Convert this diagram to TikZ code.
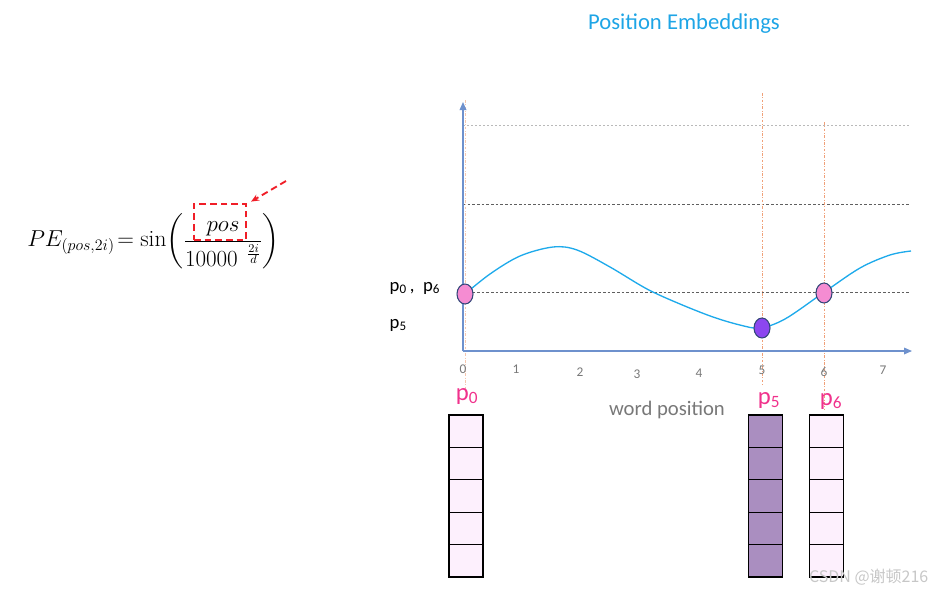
\documentclass[tikz,border=0pt]{standalone}
\usepackage{fontspec}
\usepackage{amsmath}
\usetikzlibrary{arrows.meta,shapes.geometric}
\newfontfamily\carl{Carlito}
\newfontfamily\cjk{Noto Sans CJK SC}
\definecolor{axisblue}{RGB}{110,145,205}
\definecolor{titleblue}{RGB}{30,165,230}
\definecolor{curveblue}{RGB}{30,170,235}
\definecolor{gridlight}{RGB}{185,185,185}
\definecolor{griddark}{RGB}{95,95,95}
\definecolor{orangeline}{RGB}{240,160,120}
\definecolor{pinkfill}{RGB}{245,140,210}
\definecolor{purplefill}{RGB}{140,70,240}
\definecolor{dotborder}{RGB}{50,70,120}
\definecolor{pinklabel}{RGB}{240,50,140}
\definecolor{celllight}{RGB}{253,240,253}
\definecolor{celldark}{RGB}{170,142,192}
\definecolor{wordgray}{RGB}{120,120,120}
\definecolor{redbox}{RGB}{240,30,40}
\tikzset{
  axisline/.style={draw=axisblue, line width=0.9pt, -{Triangle[length=6pt,width=5pt]}},
  gridl/.style={draw=gridlight, line width=0.6pt, dash pattern=on 1.5pt off 1.5pt},
  gridd/.style={draw=griddark, line width=0.6pt, dash pattern=on 2pt off 1.5pt},
  vline/.style={draw=orangeline, line width=0.6pt, dash pattern=on 2pt off 1.2pt on 0.6pt off 1.2pt},
  dot/.style={ellipse, draw=dotborder, line width=0.8pt, minimum width=12pt, minimum height=15pt, inner sep=0pt},
  tick/.style={font=\carl\fontsize{10}{12}\selectfont, text=wordgray},
  plabel/.style={font=\carl\fontsize{18.5}{22}\selectfont, text=pinklabel},
  cell/.style={draw=black, line width=1pt, minimum width=25.5pt, minimum height=24.3pt, inner sep=0pt},
}
\begin{document}
\begin{tikzpicture}[x=0.75pt,y=-0.75pt]
\useasboundingbox (0,0) rectangle (936,590);
% title
\node[font=\carl\fontsize{17}{20}\selectfont, text=titleblue] (title) at (684,24) {Position Embeddings};
% formula
\node[anchor=west, inner sep=0pt] (formula) at (27,241) {\fontsize{17.5}{21}\selectfont$\displaystyle PE_{(pos,2i)}\!=\sin\!\left(\frac{pos}{10000^{\;\;\frac{2i}{d}}}\right)$};
\node[draw=redbox, line width=1.6pt, dash pattern=on 5pt off 3pt, minimum width=39pt, minimum height=27pt, inner sep=0pt] (posbox) at (220,222) {};
\coordinate (arrstart) at (286,181);
\draw[draw=redbox, line width=1.4pt, dash pattern=on 5pt off 3pt, -{Stealth[length=6pt,width=5pt]}] (arrstart) -- ([xshift=3pt,yshift=1pt]posbox.north east);
% axes
\coordinate (origin) at (463,351);
\coordinate (yend) at (463,102);
\coordinate (xend) at (912,351);
% grid
\coordinate (g1a) at (463,125); \coordinate (g1b) at (911,125);
\coordinate (g2a) at (463,204); \coordinate (g2b) at (911,204);
\coordinate (g3a) at (463,292); \coordinate (g3b) at (911,292);
\draw[gridl] (g1a) -- (g1b);
\draw[gridd] (g2a) -- (g2b);
\draw[gridd] (g3a) -- (g3b);
% vertical orange lines
\coordinate (v0a) at (465,100); \coordinate (v0b) at (465,392);
\coordinate (v5a) at (762,93); \coordinate (v5b) at (762,386);
\coordinate (v6a) at (824,122); \coordinate (v6b) at (824,410);
\draw[vline, draw=orangeline!60] (v0a) -- (v0b);
\draw[vline] (v5a) -- (v5b);
\draw[vline] (v6a) -- (v6b);
\draw[axisline] (origin) -- (yend);
\draw[axisline] (origin) -- (xend);
% curve
\draw[curveblue, line width=1pt] plot[smooth, tension=0.55] coordinates {(465,294) (490,274) (520,256) (553,247) (577,250) (610,267) (647,289) (680,304) (713,317) (740,325) (760,328) (785,319) (823,293) (860,268) (890,255) (911,251)};
% dots
\node[dot, fill=pinkfill] (d0) at (465,294) {};
\node[dot, fill=purplefill] (d5) at (762,328) {};
\node[dot, fill=pinkfill] (d6) at (824,293) {};
% tick labels
\node[tick] (t0) at (463,369) {0};
\node[tick] (t1) at (516,369) {1};
\node[tick] (t2) at (580,372) {2};
\node[tick] (t3) at (637,374) {3};
\node[tick] (t4) at (699,373) {4};
\node[tick] (t5) at (762,370) {5};
\node[tick] (t6) at (824,372) {6};
\node[tick] (t7) at (883,370) {7};
% left labels
\node[anchor=west, font=\carl\fontsize{14}{17}\selectfont] (l06) at (385,288) {p$_{\text{\carl 0}}$\,,\ \ p$_{\text{\carl 6}}$};
\node[anchor=west, font=\carl\fontsize{14}{17}\selectfont] (l5) at (385,325) {p$_{\text{\carl 5}}$};
% pink labels
\node[plabel] (p0) at (467,396) {p$_{\text{\carl 0}}$};
\node[plabel] (p5) at (769,400) {p$_{\text{\carl 5}}$};
\node[plabel] (p6) at (831,401) {p$_{\text{\carl 6}}$};
\node[font=\carl\fontsize{15.5}{18}\selectfont, text=wordgray] (wp) at (667,410) {word position};
% cells
\foreach \k in {0,...,4}{
  \node[cell, fill=celllight] (a\k) at (466,{431.2+\k*32.4}) {};
  \node[cell, fill=celldark] (b\k) at (765.5,{431.2+\k*32.4}) {};
  \node[cell, fill=celllight] (c\k) at (826.5,{431.2+\k*32.4}) {};
}
% watermark
\node[anchor=east, font=\cjk\fontsize{12}{14}\selectfont, text=black!22] (wm) at (933,577) {CSDN @谢顿216};
\end{tikzpicture}
\end{document}
